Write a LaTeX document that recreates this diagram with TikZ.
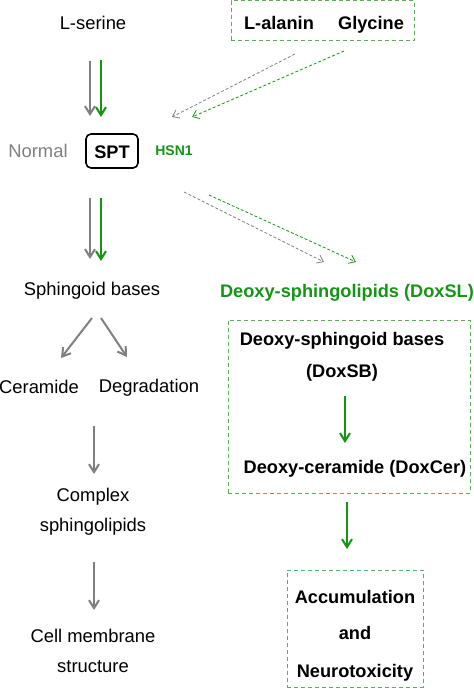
\documentclass[tikz,border=0pt]{standalone}
\usepackage{fontspec}
\setmainfont{Liberation Sans}
\usetikzlibrary{arrows.meta}
\definecolor{tgray}{RGB}{128,128,128}
\definecolor{tgreen}{RGB}{20,150,20}
\definecolor{bgreen}{RGB}{90,175,90}
\tikzset{
  txt/.style={inner sep=0pt, anchor=base, font=\fontsize{18.4}{20}\selectfont},
  btxt/.style={txt, font=\fontsize{18.2}{20}\selectfont\bfseries},
  dbox/.style={draw=bgreen, line width=0.9pt, dash pattern=on 4pt off 3pt},
  grarrow/.style={draw=tgray, line width=2pt, -{Straight Barb[length=8pt,width=10pt]}},
  gnarrow/.style={draw=tgreen, line width=2pt, -{Straight Barb[length=8pt,width=10pt]}},
  dgrarrow/.style={draw=tgray, line width=0.8pt, dash pattern=on 3pt off 2pt, -{Straight Barb[length=6pt,width=9pt]}},
  dgnarrow/.style={draw=tgreen, line width=0.8pt, dash pattern=on 3pt off 2pt, -{Straight Barb[length=6pt,width=9pt]}},
}
\begin{document}
\begin{tikzpicture}[x=1pt,y=-1pt]
\useasboundingbox (0,0) rectangle (474,689);
% boxes
\node[dbox, minimum width=183pt, minimum height=40pt, inner sep=0pt] (topbox) at (322.5,20.5) {};
\node[dbox, minimum width=242pt, minimum height=173pt, inner sep=0pt] (midbox) at (349,406.5) {};
\node[dbox, minimum width=136pt, minimum height=117pt, inner sep=0pt] (botbox) at (355,628.5) {};
% texts left
\node[txt] (serine) at (93,29) {L-serine};
\node[txt, text=tgray] (normal) at (38,157) {Normal};
\node[draw=black, line width=1.6pt, rounded corners=5pt, minimum width=52pt, minimum height=34pt, inner sep=0pt] (spt) at (112,151) {};
\node[btxt] (spttxt) at (112,158) {SPT};
\node[inner sep=0pt, anchor=base, text=tgreen, font=\fontsize{14}{16}\selectfont\bfseries] (hsn) at (174,155) {HSN1};
\node[txt] (sph) at (92,295) {Sphingoid bases};
\node[txt] (cer) at (39,393) {Ceramide};
\node[txt] (deg) at (149,392) {Degradation};
\node[txt] (cx1) at (93,501) {Complex};
\node[txt] (cx2) at (93,531) {sphingolipids};
\node[txt] (cm1) at (93,642) {Cell membrane};
\node[txt] (cm2) at (93,672) {structure};
% texts right
\node[btxt] (ala) at (279,29) {L-alanin};
\node[btxt] (gly) at (371,29) {Glycine};
\node[btxt, text=tgreen] (doxsl) at (347,297) {Deoxy-sphingolipids (DoxSL)};
\node[btxt] (dsb1) at (342,345) {Deoxy-sphingoid bases};
\node[btxt] (dsb2) at (342,377) {(DoxSB)};
\node[btxt] (dcer) at (355,473) {Deoxy-ceramide (DoxCer)};
\node[btxt] (acc1) at (355,603) {Accumulation};
\node[btxt] (acc2) at (355,639) {and};
\node[btxt] (acc3) at (355,677) {Neurotoxicity};
% connector end points
\coordinate (a1s) at (90,61);  \coordinate (a1e) at (90,116);
\coordinate (a2s) at (101,60); \coordinate (a2e) at (101,117);
\coordinate (d1s) at (295,54); \coordinate (d1e) at (172,117);
\coordinate (d2s) at (344,51); \coordinate (d2e) at (192,117);
\coordinate (a3s) at (90,198); \coordinate (a3e) at (90,259);
\coordinate (a4s) at (101,198); \coordinate (a4e) at (101,261);
\coordinate (d3s) at (184,192); \coordinate (d3e) at (324,262);
\coordinate (d4s) at (209,195); \coordinate (d4e) at (356,262);
\coordinate (b1s) at (92,318); \coordinate (b1e) at (61,358);
\coordinate (b2s) at (101,318); \coordinate (b2e) at (127,357);
\coordinate (c1s) at (94,426); \coordinate (c1e) at (94,474);
\coordinate (c2s) at (94,562); \coordinate (c2e) at (94,610);
\coordinate (g1s) at (345,396); \coordinate (g1e) at (345,443);
\coordinate (g2s) at (347,502); \coordinate (g2e) at (347,549);
% connectors
\draw[grarrow] (a1s) -- (a1e);
\draw[gnarrow] (a2s) -- (a2e);
\draw[dgrarrow] (d1s) -- (d1e);
\draw[dgnarrow] (d2s) -- (d2e);
\draw[grarrow] (a3s) -- (a3e);
\draw[gnarrow] (a4s) -- (a4e);
\draw[dgrarrow] (d3s) -- (d3e);
\draw[dgnarrow] (d4s) -- (d4e);
\draw[grarrow] (b1s) -- (b1e);
\draw[grarrow] (b2s) -- (b2e);
\draw[grarrow] (c1s) -- (c1e);
\draw[grarrow] (c2s) -- (c2e);
\draw[gnarrow] (g1s) -- (g1e);
\draw[gnarrow] (g2s) -- (g2e);
\end{tikzpicture}
\end{document}
